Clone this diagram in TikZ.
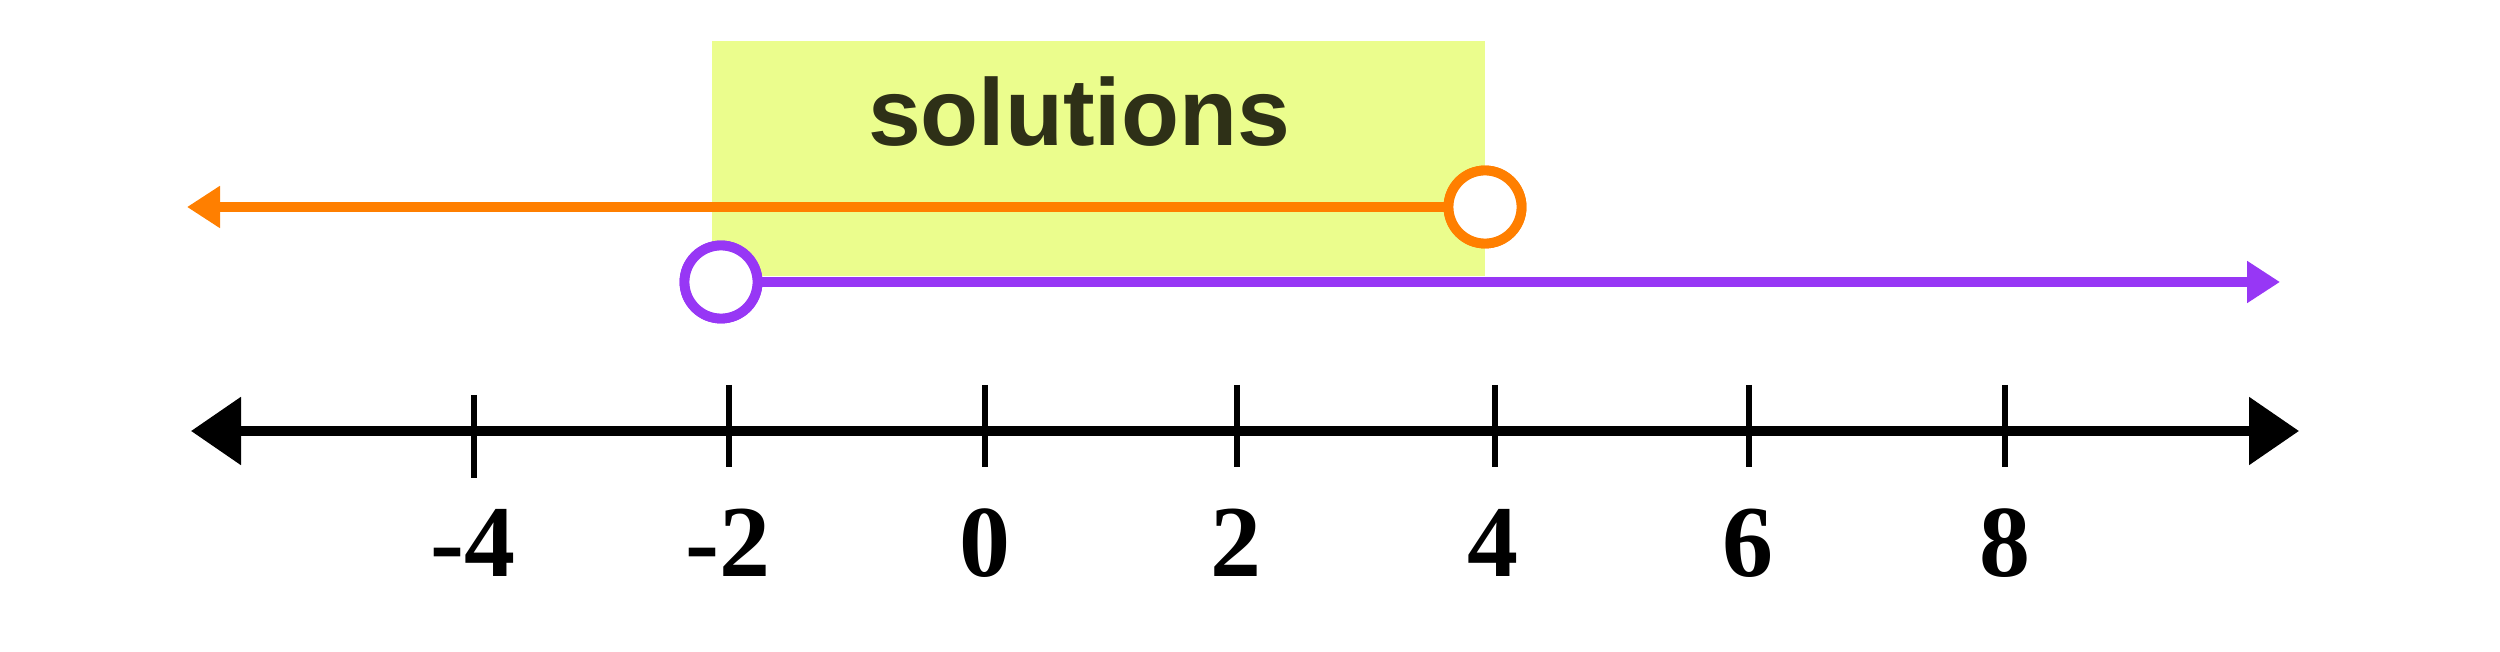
\documentclass[tikz,border=0pt]{standalone}
\usepackage{fontspec}
\setmainfont{Liberation Serif}
\newfontfamily\solfont{Liberation Sans Bold}
\usetikzlibrary{arrows.meta}
\definecolor{solyellow}{HTML}{EBFD8D}
\definecolor{soltext}{HTML}{2E3017}
\definecolor{rayorange}{HTML}{FF7F00}
\definecolor{raypurple}{HTML}{9737F5}
\tikzset{
  opendot/.style={circle, draw=#1, line width=2.8pt, fill=white, minimum size=0.73cm, inner sep=0pt},
  ray/.style={draw=#1, line width=3pt, -{Triangle[length=0.33cm, width=0.40cm]}},
  axisline/.style={line width=2.6pt, {Triangle[length=0.50cm, width=0.66cm]}-{Triangle[length=0.50cm, width=0.66cm]}},
  ticklabel/.style={anchor=base, inner sep=0pt, font=\fontsize{29}{30}\selectfont\bfseries},
  tickmark/.style={line width=1.7pt},
}
\begin{document}
\begin{tikzpicture}[x=0.01cm, y=-0.01cm]
\useasboundingbox (0,0) rectangle (2500,652);
% solutions region
\fill[solyellow] (712,41) rectangle (1485,276);
\node[anchor=base, inner sep=0pt, text=soltext, font=\solfont\fontsize{27}{30}\selectfont] (sol) at (1079,146) {solutions};
% open endpoints
\node[opendot=rayorange] (oc) at (1485,207) {};
\node[opendot=raypurple] (pc) at (721,282) {};
\coordinate (oend) at (187,207);
\coordinate (pend) at (2280,282);
\draw[ray=rayorange] (oc.west) -- (oend);
\draw[ray=raypurple] (pc.east) -- (pend);
% redraw dots on top
\node[opendot=rayorange] at (1485,207) {};
\node[opendot=raypurple] at (721,282) {};
% axis
\coordinate (al) at (191,431);
\coordinate (ar) at (2299,431);
\draw[axisline] (al) -- (ar);
% ticks
\draw[tickmark] (474,395) -- (474,478);
\foreach \x in {729,985,1237,1495,1749,2005}{
  \draw[tickmark] (\x,385) -- (\x,467);
}
% labels
\node[ticklabel] (lm4) at (473,576) {-4};
\node[ticklabel] (lm2) at (728,576) {-2};
\node[ticklabel] (l0) at (985,576) {0};
\node[ticklabel] (l2) at (1236,576) {2};
\node[ticklabel] (l4) at (1493,576) {4};
\node[ticklabel] (l6) at (1748,576) {6};
\node[ticklabel] (l8) at (2005,576) {8};
\end{tikzpicture}
\end{document}
